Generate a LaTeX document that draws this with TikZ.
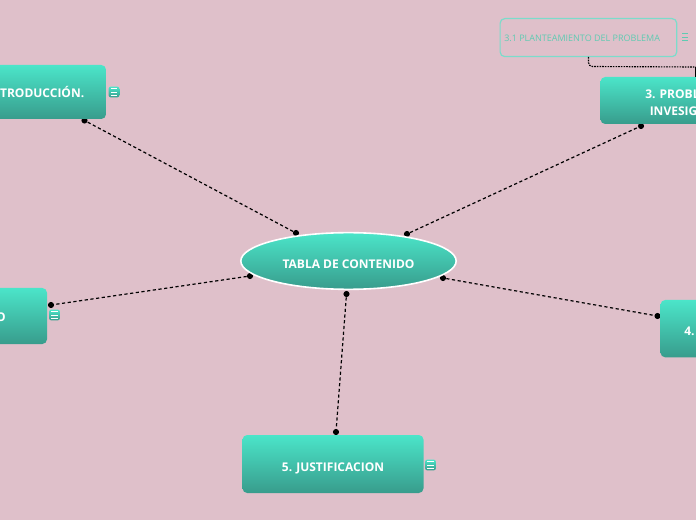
\documentclass[tikz,border=0pt]{standalone}
\usepackage{fontspec}
\usetikzlibrary{shapes.geometric}
\setmainfont{Open Sans}
\definecolor{bgc}{HTML}{DFC0CA}
\definecolor{topc}{HTML}{4BE5C9}
\definecolor{botc}{HTML}{389C8C}
\definecolor{subline}{HTML}{7CDCCB}
\definecolor{subtext}{HTML}{5FCBB2}
\tikzset{
  x=0.75pt,y=-0.75pt,
  grad/.style={top color=topc,bottom color=botc,middle color=topc!50!botc,draw=none},
  topic/.style={grad,rounded corners=3.5pt,anchor=north west,inner sep=0pt,outer sep=0pt},
  dotn/.style={circle,fill=black,draw=none,minimum size=4.6pt,inner sep=0pt},
  link/.style={black,line width=0.9pt,dash pattern=on 2.4pt off 1.9pt},
  lab/.style={text=white,font=\bfseries\fontsize{9}{11}\selectfont,inner sep=0pt},
  menu/.style={grad,rounded corners=1.5pt,minimum size=8pt,inner sep=0pt},
  menuline/.style={white,line width=0.55pt},
}
\newcommand{\menuicon}[3]{%
  \node[menu] (#1) at (#2,#3) {};
  \foreach \dy in {-2.6,0,2.6}{\draw[menuline] ([xshift=-2.6pt,yshift=\dy pt]#1.center) -- ([xshift=2.6pt,yshift=\dy pt]#1.center);}
}
\begin{document}
\begin{tikzpicture}
\path[use as bounding box,fill=bgc] (0,0) rectangle (696,520);
\clip (0,0) rectangle (696,520);
% connector end dots
\node[dotn] (a1) at (296,233) {};
\node[dotn] (a2) at (84.5,120.5) {};
\node[dotn] (b1) at (407,234) {};
\node[dotn] (b2) at (641,126) {};
\node[dotn] (c1) at (250,276) {};
\node[dotn] (c2) at (51,305) {};
\node[dotn] (d1) at (443,278) {};
\node[dotn] (d2) at (657.5,316) {};
\node[dotn] (e1) at (346.5,294) {};
\node[dotn] (e2) at (336,432) {};
\draw[link] (a1) -- (a2);
\draw[link] (b1) -- (b2);
\draw[link] (c1) -- (c2);
\draw[link] (d1) -- (d2);
\draw[link] (e1) -- (e2);
% boxes
\node[topic,minimum width=156pt,minimum height=40.5pt] (t1) at (-102,65) {};
\node[topic,minimum width=120pt,minimum height=35.25pt] (t3) at (600.5,77) {};
\node[topic,minimum width=120pt,minimum height=42pt] (t2) at (-113,288) {};
\node[topic,minimum width=120pt,minimum height=43pt] (t4) at (660.5,300) {};
\node[topic,minimum width=135.75pt,minimum height=43.5pt] (t5) at (242.5,435) {};
% central topic
\node[ellipse,grad,draw=white,line width=1.2pt,minimum width=161.5pt,minimum height=42.5pt,inner sep=0pt] (root) at (348.5,261) {};
\node[lab,anchor=base] (rootlab) at (348.5,268.5) {TABLA DE CONTENIDO};
% labels
\node[lab,anchor=base east] (l1) at (84.5,98) {TRODUCCIÓN.};
\node[lab,anchor=base west] (l3a) at (645,98.5) {3. PROBL};
\node[lab,anchor=base west] (l3b) at (649.5,115.5) {INVESIG};
\node[lab,anchor=base east] (l2) at (6,321) {O};
\node[lab,anchor=base west] (l4) at (684,335) {4.};
\node[lab,anchor=base] (l5) at (333,471) {5. JUSTIFICACION};
% icons
\menuicon{m1}{114}{92}
\menuicon{m2}{54.5}{315}
\menuicon{m5}{430.5}{465}
% subtopic
\node[draw=subline,line width=0.9pt,rounded corners=3.5pt,anchor=north west,minimum width=132.5pt,minimum height=28.5pt,inner sep=0pt] (s1) at (499.5,18) {};
\node[text=subtext,font=\fontsize{6.75}{8}\selectfont,anchor=base west,inner sep=0pt] (s1lab) at (504,41.5) {3.1 PLANTEAMIENTO DEL PROBLEMA};
\coordinate (s1drop) at (588.5,57);
\coordinate (s1right) at (696,67);
\coordinate (s1end) at (695.5,77);
\draw[black,line width=0.85pt,dash pattern=on 1.2pt off 0.8pt,rounded corners=3pt] (s1drop) -- (588.5,66.5) -- (s1right);
\draw[black,line width=0.9pt] (695.5,67) -- (s1end);
\foreach \yy in {33.5,37,40.5}{\draw[subtext,line width=0.6pt] (682,\yy) -- (688,\yy);}
\end{tikzpicture}
\end{document}
